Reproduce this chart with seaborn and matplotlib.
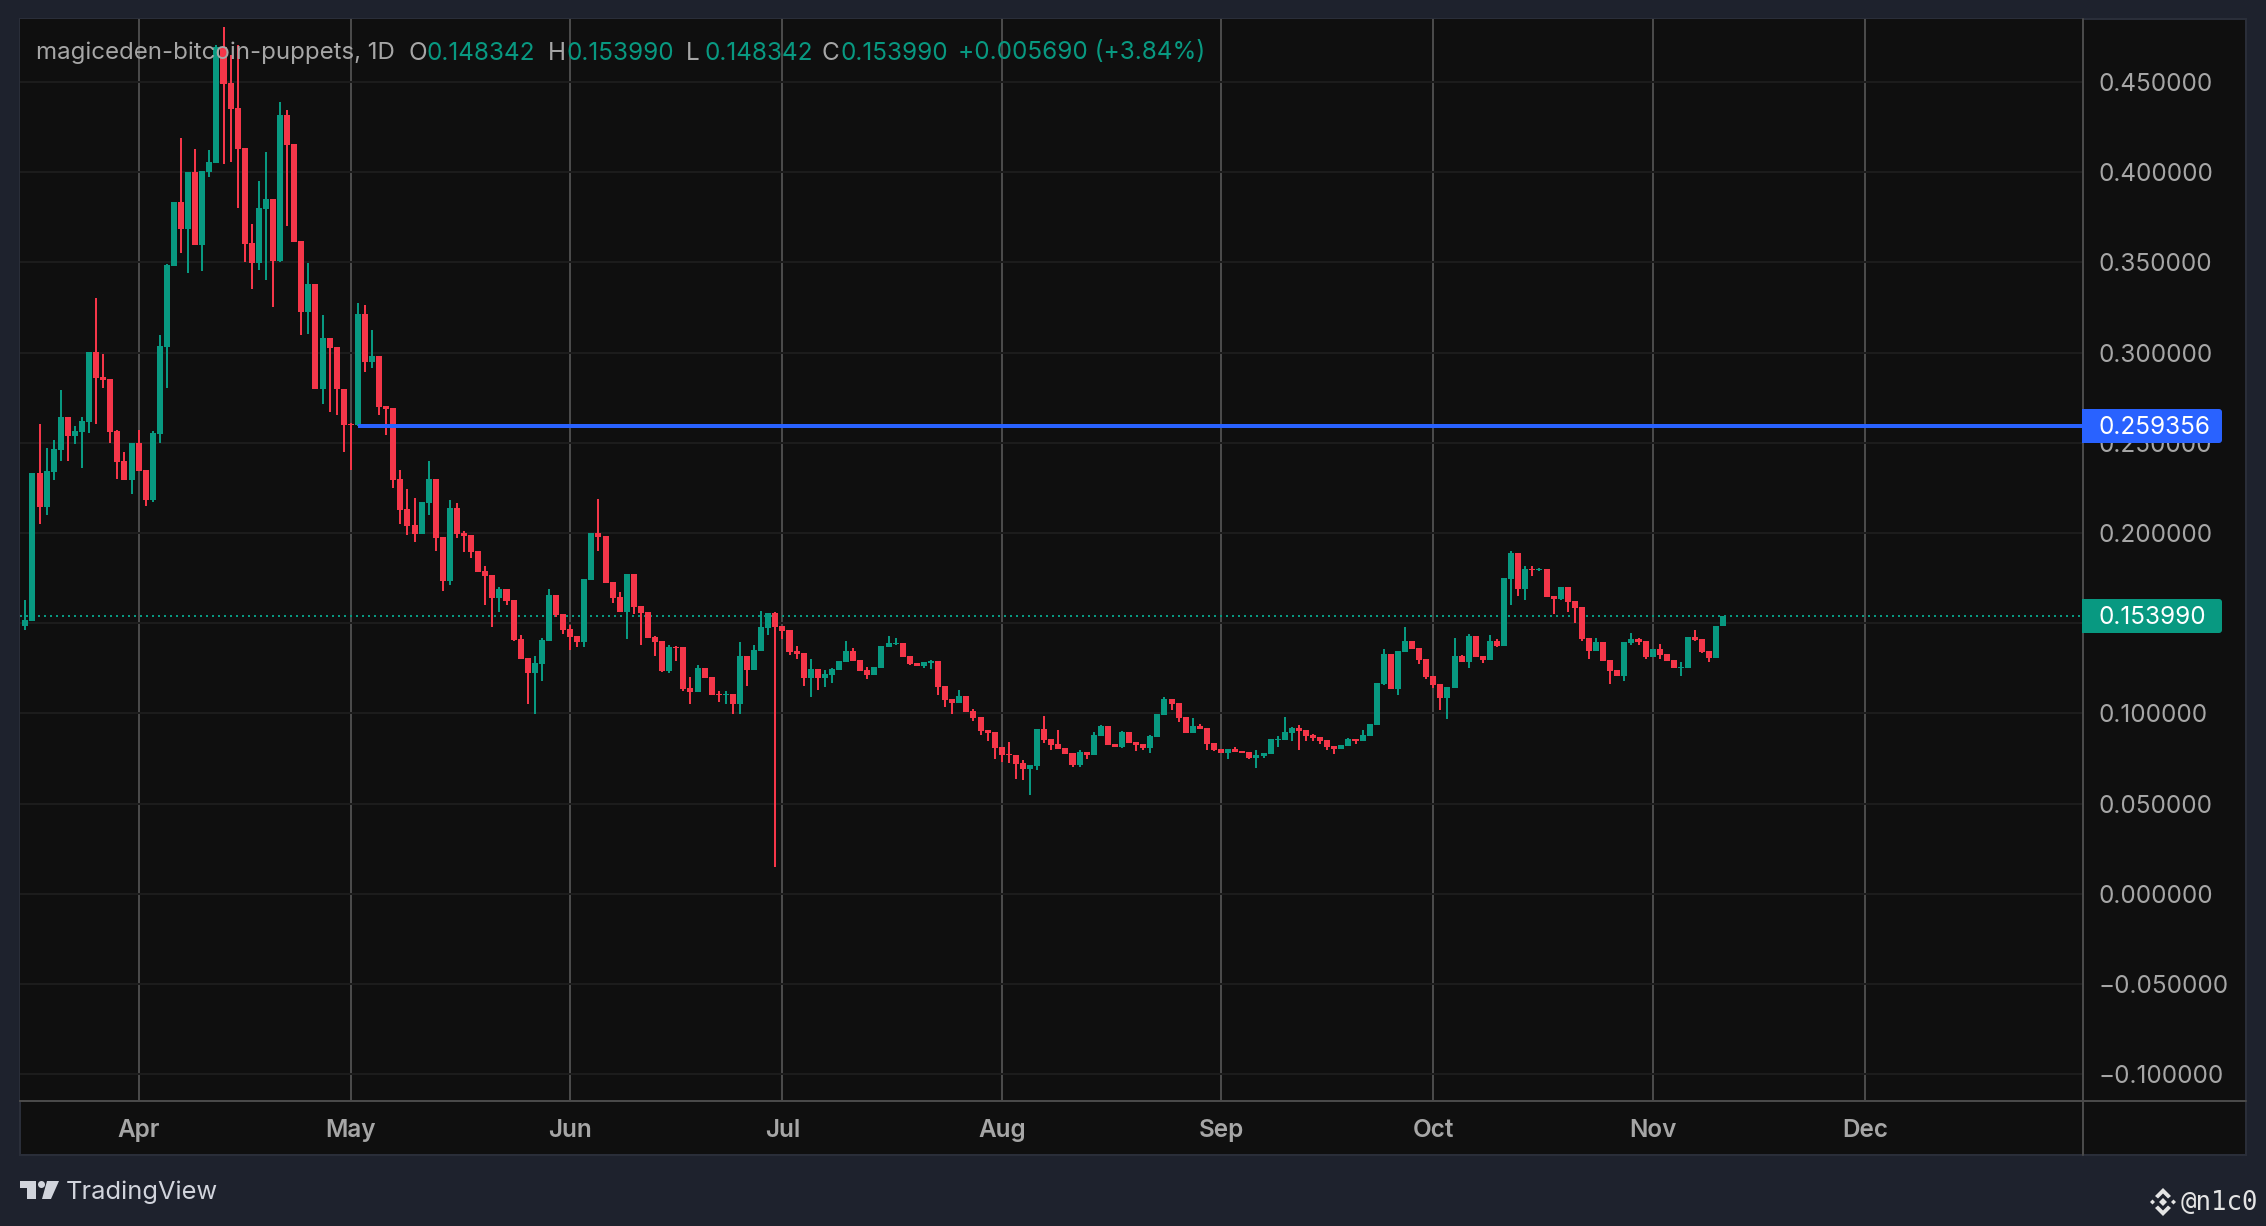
import matplotlib
matplotlib.use('Agg')
import matplotlib.pyplot as plt
import matplotlib.dates as mdates
from matplotlib.patches import Circle, FancyBboxPatch, Polygon, Rectangle
from matplotlib.lines import Line2D
from matplotlib.transforms import Affine2D
import pandas as pd
import seaborn as sns

title = 'magiceden-bitcoin-puppets, 1D'
first_day = '2024-03-16'
last_price = 0.153990
last_open = 0.148342
last_change = '+0.005690 (+3.84%)'
level_price = 0.259356
level_start = '2024-05-02'

opens = [
    .1485, .1512, .2332, .2144, .2338, .2460, .2643, .2537, .2560, .2615,
    .3003, .2864, .2853, .2565, .2399, .2294, .2499, .2349, .2183, .2548,
    .3030, .3479, .3834, .3684, .4000, .3596, .4000, .4050, .4692, .4493,
    .4355, .4133, .3607, .3496, .3795, .3850, .3507, .4316, .4155, .3618,
    .3224, .3379, .2800, .3080, .3030, .2798, .2604, .2598, .3213, .2947,
    .2981, .2704, .2693, .2299, .2133, .2044, .1994, .2166, .2299, .1978,
    .1734, .2139, .2000, .1989, .1900, .1789, .1767, .1640, .1690, .1629,
    .1413, .1307, .1224, .1274, .1402, .1656, .1551, .1468, .1429, .1396,
    .1740, .2000, .1983, .1729, .1645, .1562, .1773, .1596, .1562, .1424,
    .1402, .1235, .1368, .1368, .1141, .1119, .1252, .1202, .1108, .1103,
    .1108, .1053, .1319, .1241, .1346, .1474, .1557, .1485, .1463, .1346,
    .1335, .1197, .1246, .1197, .1213, .1241, .1285, .1346, .1296, .1241,
    .1213, .1252, .1368, .1385, .1391, .1319, .1280, .1263, .1280, .1291,
    .1152, .1080, .1058, .1097, .1014, .0981, .0909, .0897, .0814, .0776,
    .0770, .0726, .0693, .0709, .0914, .0859, .0831, .0809, .0781, .0715,
    .0787, .0770, .0875, .0931, .0831, .0814, .0897, .0842, .0831, .0809,
    .0870, .0992, .1080, .1058, .0981, .0892, .0931, .0920, .0837, .0803,
    .0781, .0803, .0792, .0787, .0753, .0765, .0776, .0853, .0853, .0892,
    .0920, .0909, .0881, .0870, .0853, .0820, .0803, .0820, .0859, .0848,
    .0875, .0936, .1163, .1330, .1136, .1341, .1402, .1363, .1302, .1208,
    .1163, .1086, .1141, .1319, .1285, .1429, .1319, .1296, .1402, .1374,
    .1745, .1889, .1690, .1801, .1795, .1801, .1651, .1634, .1701, .1623,
    .1590, .1418, .1346, .1396, .1296, .1241, .1208, .1391, .1413, .1402,
    .1313, .1357, .1330, .1296, .1252, .1252, .1424, .1413, .1346, .1307, .1483,
]
highs = [
    .1629, .2332, .2604, .2471, .2515, .2792, .2643, .2593, .2643, .3003,
    .3302, .2992, .2853, .2571, .2449, .2499, .2571, .2349, .2565, .3097,
    .3490, .3834, .4188, .4000, .4127, .4005, .4122, .4703, .4803, .4648,
    .4704, .4133, .3712, .3950, .4111, .3850, .4388, .4343, .4155, .3618,
    .3496, .3379, .3208, .3080, .3030, .2798, .2610, .3274, .3263, .3125,
    .2981, .2704, .2693, .2349, .2244, .2194, .2172, .2399, .2299, .1978,
    .2183, .2166, .2011, .1989, .1900, .1817, .1767, .1701, .1690, .1629,
    .1435, .1307, .1319, .1418, .1690, .1656, .1551, .1490, .1429, .1745,
    .2000, .2188, .1983, .1729, .1673, .1773, .1773, .1596, .1562, .1429,
    .1402, .1380, .1374, .1368, .1202, .1269, .1252, .1202, .1125, .1125,
    .1108, .1396, .1319, .1380, .1568, .1557, .1563, .1485, .1463, .1374,
    .1335, .1302, .1246, .1241, .1252, .1291, .1402, .1363, .1296, .1258,
    .1258, .1374, .1429, .1418, .1391, .1319, .1280, .1285, .1296, .1291,
    .1152, .1080, .1130, .1097, .1025, .0981, .0909, .0897, .0814, .0842,
    .0770, .0742, .0715, .0914, .0986, .0859, .0909, .0809, .0781, .0798,
    .0787, .0897, .0936, .0931, .0831, .0903, .0897, .0842, .0831, .0881,
    .0997, .1091, .1080, .1058, .0981, .0975, .0942, .0920, .0837, .0803,
    .0803, .0814, .0792, .0787, .0798, .0781, .0859, .0875, .0981, .0925,
    .0936, .0909, .0886, .0870, .0853, .0820, .0825, .0864, .0859, .0909,
    .0942, .1169, .1357, .1330, .1346, .1479, .1402, .1363, .1302, .1208,
    .1163, .1147, .1418, .1324, .1440, .1429, .1319, .1435, .1413, .1751,
    .1900, .1889, .1817, .1817, .1806, .1801, .1651, .1701, .1701, .1623,
    .1590, .1418, .1418, .1396, .1296, .1241, .1396, .1446, .1418, .1402,
    .1357, .1385, .1330, .1296, .1285, .1424, .1463, .1413, .1346, .1483, .1540,
]
lows = [
    .1463, .1512, .2050, .2100, .2294, .2399, .2399, .2493, .2360, .2554,
    .2604, .2803, .2499, .2299, .2294, .2216, .2343, .2150, .2172, .2499,
    .2806, .3479, .3551, .3440, .3596, .3451, .3972, .4050, .4044, .4055,
    .3801, .3501, .3352, .3457, .3402, .3252, .3501, .3701, .3612, .3097,
    .3103, .2800, .2717, .2670, .2654, .2449, .2349, .2593, .2892, .2917,
    .2654, .2543, .2249, .2050, .1989, .1950, .1994, .2100, .1900, .1679,
    .1712, .1972, .1895, .1862, .1784, .1601, .1479, .1562, .1601, .1402,
    .1302, .1053, .0997, .1180, .1402, .1535, .1440, .1352, .1368, .1368,
    .1740, .1900, .1723, .1612, .1562, .1413, .1551, .1380, .1418, .1319,
    .1229, .1224, .1291, .1125, .1053, .1119, .1197, .1103, .1064, .1053,
    .0997, .0997, .1152, .1241, .1346, .1435, .0150, .1413, .1324, .1302,
    .1152, .1091, .1130, .1147, .1169, .1241, .1285, .1291, .1235, .1191,
    .1213, .1252, .1368, .1380, .1313, .1269, .1263, .1252, .1246, .1103,
    .1036, .0997, .1058, .1008, .0958, .0881, .0848, .0748, .0731, .0726,
    .0637, .0632, .0549, .0687, .0837, .0798, .0803, .0776, .0704, .0704,
    .0748, .0770, .0875, .0825, .0814, .0809, .0837, .0792, .0798, .0781,
    .0870, .0992, .1019, .0953, .0892, .0892, .0914, .0798, .0792, .0781,
    .0748, .0787, .0781, .0748, .0698, .0753, .0776, .0814, .0853, .0848,
    .0798, .0848, .0848, .0831, .0798, .0776, .0803, .0820, .0831, .0848,
    .0875, .0936, .1158, .1136, .1103, .1341, .1357, .1274, .1191, .1141,
    .1019, .0970, .1141, .1285, .1252, .1313, .1280, .1296, .1368, .1374,
    .1601, .1651, .1629, .1762, .1789, .1645, .1551, .1629, .1562, .1501,
    .1402, .1302, .1346, .1291, .1163, .1208, .1180, .1380, .1380, .1302,
    .1313, .1302, .1291, .1252, .1208, .1252, .1402, .1335, .1285, .1307, .1483,
]
closes = [
    .1518, .2332, .2144, .2343, .2465, .2643, .2537, .2565, .2620, .3003,
    .2859, .2848, .2560, .2393, .2294, .2499, .2343, .2183, .2554, .3036,
    .3485, .3834, .3684, .4000, .3596, .4005, .4055, .4692, .4487, .4349,
    .4127, .3601, .3496, .3801, .3850, .3507, .4316, .4150, .3612, .3224,
    .3379, .2800, .3080, .3025, .2798, .2598, .2598, .3213, .2947, .2981,
    .2698, .2687, .2294, .2127, .2039, .1994, .2172, .2299, .1972, .1734,
    .2139, .1994, .1983, .1895, .1784, .1762, .1640, .1690, .1623, .1407,
    .1302, .1224, .1280, .1407, .1656, .1546, .1463, .1424, .1396, .1745,
    .2000, .1978, .1723, .1640, .1562, .1773, .1590, .1557, .1418, .1396,
    .1235, .1368, .1363, .1136, .1119, .1252, .1197, .1103, .1103, .1108,
    .1053, .1319, .1241, .1352, .1479, .1557, .1479, .1457, .1341, .1330,
    .1197, .1246, .1197, .1219, .1246, .1291, .1346, .1291, .1235, .1213,
    .1258, .1374, .1391, .1391, .1313, .1274, .1263, .1285, .1291, .1147,
    .1075, .1058, .1097, .1008, .0975, .0903, .0892, .0809, .0770, .0767,
    .0720, .0693, .0715, .0914, .0853, .0825, .0803, .0776, .0715, .0787,
    .0770, .0881, .0931, .0825, .0814, .0897, .0837, .0825, .0809, .0875,
    .0997, .1080, .1053, .0975, .0892, .0931, .0914, .0831, .0798, .0781,
    .0803, .0787, .0781, .0753, .0770, .0781, .0859, .0859, .0897, .0920,
    .0903, .0875, .0864, .0848, .0814, .0803, .0825, .0859, .0848, .0881,
    .0942, .1169, .1330, .1136, .1346, .1402, .1357, .1296, .1202, .1158,
    .1086, .1147, .1319, .1285, .1429, .1313, .1296, .1402, .1374, .1751,
    .1889, .1690, .1801, .1795, .1801, .1645, .1634, .1701, .1618, .1584,
    .1413, .1346, .1396, .1291, .1235, .1208, .1396, .1413, .1396, .1313,
    .1357, .1324, .1291, .1252, .1258, .1424, .1407, .1341, .1307, .1483, .1540,
]

month_days = ['2024-04-01', '2024-05-01', '2024-06-01', '2024-07-01', '2024-08-01',
              '2024-09-01', '2024-10-01', '2024-11-01', '2024-12-01']
month_labels = ['Apr', 'May', 'Jun', 'Jul', 'Aug', 'Sep', 'Oct', 'Nov', 'Dec']
price_ticks = [-0.10, -0.05, 0.0, 0.05, 0.10, 0.15, 0.20, 0.25, 0.30, 0.35, 0.40, 0.45]

W, H = 2266, 1226
FRAME = '#1e222d'
PANE = '#0f0f0f'
BORDER = '#2a2e39'
GRID = '#1c1c1c'
VLINE = '#4a4a4a'
TEXT = '#a6a6a6'
UP = '#089981'
DOWN = '#f53649'
BLUE = '#2962ff'
PX = 0.72  # one pixel in points at dpi 100
FONT = 17.5

sns.set_theme(style='dark', rc={'figure.facecolor': FRAME, 'axes.facecolor': PANE})
plt.rcParams['font.family'] = ['Inter', 'DejaVu Sans']

fig = plt.figure(figsize=(W / 100, H / 100), dpi=100)
pix = Affine2D().scale(1 / W, -1 / H).translate(0, 1) + fig.transFigure

# dark pane behind everything, with the thin border
fig.add_artist(Rectangle((20, 19), 2226, 1136, transform=pix, facecolor=PANE,
                         edgecolor=BORDER, linewidth=2 * PX, zorder=-1))

ax = fig.add_axes([20 / W, 1 - 1101 / H, 2063 / W, 1082 / H], zorder=0)

df = pd.DataFrame({'day': pd.date_range(first_day, periods=len(opens)),
                   'open': opens, 'high': highs, 'low': lows, 'close': closes})
df['x'] = mdates.date2num(df['day'])
df['color'] = [UP if c >= o else DOWN for o, c in zip(df['open'], df['close'])]

ax.set_axisbelow(True)
ax.vlines(df['x'], df['low'], df['high'], colors=df['color'], linewidth=2 * PX,
          antialiased=False, zorder=3)
ax.bar(df['x'], df['close'] - df['open'], bottom=df['open'], width=0.85,
       color=df['color'], linewidth=0, antialiased=False, zorder=3)

x0 = mdates.date2num(pd.Timestamp(first_day))
xlim = (x0 - 5.4 / 7.075, x0 + 2057.6 / 7.075)
right_day = mdates.num2date(xlim[1]).replace(tzinfo=None)
left_day = mdates.num2date(xlim[0]).replace(tzinfo=None)

sns.lineplot(x=[left_day, right_day], y=[last_price, last_price], ax=ax, color=UP,
             linewidth=2 * PX, linestyle=(0, (1, 2)), dash_capstyle='butt', legend=False, zorder=2)
sns.lineplot(x=[pd.Timestamp(level_start), right_day], y=[level_price, level_price], ax=ax,
             color=BLUE, linewidth=4 * PX, legend=False, zorder=4, solid_capstyle='butt')

ax.set_xlim(xlim)
ax.set_ylim(0.2 + (533 - 1101) / 1804, 0.2 + (533 - 19) / 1804)

ax.set_xticks(mdates.date2num(pd.to_datetime(month_days)))
ax.set_xticklabels(month_labels, fontsize=FONT, fontweight='semibold', color=TEXT)
ax.yaxis.tick_right()
ax.set_yticks(price_ticks)
ax.set_yticklabels([f'{v:.6f}'.replace('-', '\u2212') for v in price_ticks],
                   fontsize=FONT, color=TEXT, ha='left')
ax.tick_params(axis='x', length=0, pad=13)
ax.tick_params(axis='y', length=0, pad=11.5)
ax.grid(axis='y', color=GRID, linewidth=2 * PX)
ax.grid(axis='x', color=VLINE, linewidth=2 * PX)
ax.set_xlabel('')
ax.set_ylabel('')
sns.despine(ax=ax, left=True, top=True, right=True, bottom=False)
ax.spines['bottom'].set_color(VLINE)
ax.spines['bottom'].set_linewidth(2 * PX)


def hline(x1, x2, y):
    fig.add_artist(Line2D([x1, x2], [y, y], transform=pix, color=VLINE, linewidth=2 * PX, zorder=1))


def label(x, y, s, color=TEXT, size=FONT, **kw):
    fig.text(x / W, 1 - y / H, s, color=color, fontsize=size, va='center', zorder=6, **kw)


def price_tag(top, bottom, s, color):
    fig.add_artist(FancyBboxPatch((2090, top + 3), 129, bottom - top - 6, transform=pix,
                                  boxstyle='round,pad=3', facecolor=color, linewidth=0, zorder=4))
    fig.add_artist(Rectangle((2082, top), 12, bottom - top, transform=pix,
                             facecolor=color, linewidth=0, zorder=4))
    label(2099, (top + bottom) / 2 + 1, s, color='white')


# right price scale and time scale lines
fig.add_artist(Line2D([2083, 2083], [19, 1155], transform=pix, color=VLINE, linewidth=2 * PX, zorder=1))
hline(2083, 2246, 1101)

price_tag(409, 443, f'{level_price:.6f}', BLUE)
price_tag(599, 633, f'{last_price:.6f}', UP)

# header line
label(36, 53, title, size=17.3)
label(408, 53, 'O')
label(427, 53, f'{last_open:.6f}', color=UP)
label(548, 53, 'H')
label(566, 53, f'{last_price:.6f}', color=UP)
label(686, 53, 'L')
label(705, 53, f'{last_open:.6f}', color=UP)
label(821, 53, 'C')
label(840, 53, f'{last_price:.6f}', color=UP)
label(958, 53, last_change, color=UP)

# TradingView mark and name
LOGO = '#d1d4dc'
fig.add_artist(Polygon([(20, 1181), (36, 1181), (36, 1199), (27, 1199), (27, 1188), (20, 1188)],
                       transform=pix, facecolor=LOGO, linewidth=0, zorder=5))
fig.add_artist(Circle((41.5, 1184.5), 3.5, transform=pix, facecolor=LOGO, linewidth=0, zorder=5))
fig.add_artist(Polygon([(47, 1181), (59, 1181), (51, 1199), (42, 1199)],
                       transform=pix, facecolor=LOGO, linewidth=0, zorder=5))
label(66, 1192, 'TradingView', color=LOGO, size=18.3)

# watermark, binance diamond and handle
MARK = '#e4e4e4'
cx, cy = 2163, 1202
for dx, dy, r in [(0, 0, 4), (-10.5, 0, 2.5), (10.5, 0, 2.5)]:
    fig.add_artist(Polygon([(cx + dx - r, cy + dy), (cx + dx, cy + dy - r),
                            (cx + dx + r, cy + dy), (cx + dx, cy + dy + r)],
                           transform=pix, facecolor=MARK, linewidth=0, zorder=5))
for sgn in (-1, 1):
    fig.add_artist(Polygon([(cx - 8, cy + sgn * 6), (cx, cy + sgn * 14), (cx + 8, cy + sgn * 6),
                            (cx + 5, cy + sgn * 3.5), (cx, cy + sgn * 8.5), (cx - 5, cy + sgn * 3.5)],
                           transform=pix, facecolor=MARK, linewidth=0, zorder=5))
label(2181, 1203, '@n1c0', color=MARK, size=18.5, family='DejaVu Sans Mono')

fig.savefig('out.png', dpi=100, facecolor=FRAME)
